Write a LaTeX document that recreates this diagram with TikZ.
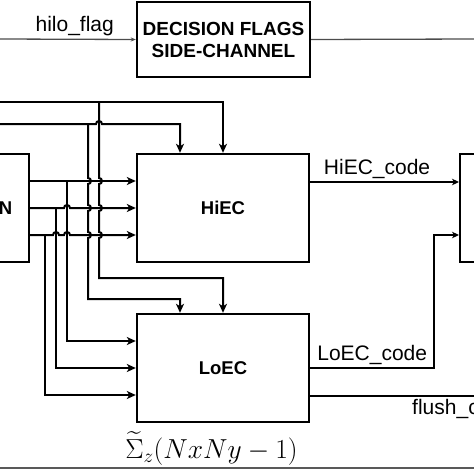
\RequirePackage{fix-cm}
\documentclass[tikz,border=0pt]{standalone}
\usepackage{amsmath}
\usepackage{fontspec}
\setmainfont{Liberation Sans}
\usetikzlibrary{positioning,arrows.meta,calc}

\begin{document}
\begin{tikzpicture}[x=1pt,y=1pt,
    block/.style={draw, line width=2.4pt, inner sep=0pt, align=center,
        font=\fontsize{18.5}{22}\selectfont\bfseries},
    wire/.style={line width=2pt},
    sig/.style={line width=1.5pt},
    faint/.style={line width=1.3pt, black!70},
    tip/.style={-{Stealth[length=9pt,width=8pt,inset=2.5pt]}},
    sigtip/.style={-{Stealth[length=7pt,width=6.5pt,inset=2pt]}},
    smalltip/.style={-{Stealth[length=5pt,width=4pt,inset=1.5pt]}},
    lbl/.style={font=\fontsize{21}{25}\selectfont, inner sep=3pt}
]
    \useasboundingbox (0,0) rectangle (474,-474);
    \clip (0,0) rectangle (474,-474);

    % Blocks
    \node[block, minimum width=173pt, minimum height=75pt, font=\fontsize{19}{22}\selectfont\bfseries] (flags) at (223.5,-39.5) {DECISION FLAGS\\SIDE-CHANNEL};
    \node[block, minimum width=100pt, minimum height=108pt, anchor=east] (split) at (30,-208) {};
    \node[font=\fontsize{18.5}{22}\selectfont\bfseries, inner sep=0pt] (splitlbl) at (5.5,-208) {N};
    \node[block, minimum width=172pt, minimum height=108pt] (hiec) at (223,-208) {HiEC};
    \node[block, minimum width=172pt, minimum height=108pt] (loec) at (223,-368) {LoEC};
    \node[block, minimum width=60pt, minimum height=108pt, anchor=west] (merge) at (459,-208) {};

    % Free ends and taps
    \coordinate (flagin) at (0,-39);
    \coordinate (flagout) at (474,-39);
    \coordinate (fbA) at (0,-102);
    \coordinate (fbB) at (0,-124);
    \coordinate (flushout) at (474,-396);
    \coordinate (tapA) at (67,-181);
    \coordinate (tapB) at (56,-208);
    \coordinate (tapC) at (45,-235);

    % Side-channel flag
    \draw[faint, smalltip] (flagin) -- (flags.west) node[pos=0.55, above, lbl, black] {hilo\_flag};
    \draw[faint] (flags.east) -- (flagout);

    % Feedback into HiEC
    \draw[wire, tip] (fbA) -| (hiec.north);
    \draw[wire, tip] (fbB) -- (96,-124) arc[start angle=180, end angle=0, radius=3] -| ([xshift=-43]hiec.north);

    % Rows into HiEC
    \draw[wire, tip] ([yshift=27]split.east) -- ([yshift=27]hiec.west);
    \draw[wire, tip] (split.east) -- (64,-208) arc[start angle=180, end angle=0, radius=3] -- (hiec.west);
    \draw[wire, tip] ([yshift=-27]split.east) -- (53,-235) arc[start angle=180, end angle=0, radius=3]
        -- (64,-235) arc[start angle=180, end angle=0, radius=3] -- ([yshift=-27]hiec.west);

    % Taps down into LoEC
    \draw[wire, tip] (tapA) |- ([yshift=27]loec.west);
    \draw[wire, tip] (tapB) |- (loec.west);
    \draw[wire, tip] (tapC) |- ([yshift=-27]loec.west);
    \draw[wire, tip] (88,-124) -- (88,-178) arc[start angle=90, end angle=-90, radius=3]
        -- (88,-205) arc[start angle=90, end angle=-90, radius=3]
        -- (88,-232) arc[start angle=90, end angle=-90, radius=3]
        -- (88,-299) -| ([xshift=-43]loec.north);
    \draw[wire, tip] (99,-102) -- (99,-178) arc[start angle=90, end angle=-90, radius=3]
        -- (99,-205) arc[start angle=90, end angle=-90, radius=3]
        -- (99,-232) arc[start angle=90, end angle=-90, radius=3]
        -- (99,-278) -| (loec.north);

    % Outputs
    \draw[sig, sigtip] ([yshift=26]hiec.east) -- ([yshift=26]hiec.east -| merge.west)
        node[pos=0, anchor=south west, lbl, xshift=10pt] {HiEC\_code};
    \draw[sig, sigtip] (loec.east) -- ++(124,0) node[midway, above, lbl] {LoEC\_code} |- ([yshift=-27]merge.west);
    \draw[sig] ([yshift=-28]loec.east) -- (flushout) node[pos=0.6, anchor=north west, lbl] {flush\_code};

    % Label and rule
    \node[anchor=base, inner sep=0pt, font=\fontsize{27.5}{32}\selectfont] (sigma) at (211.5,-458) {$\widetilde{\Sigma}_z(NxNy-1)$};
    \draw[line width=2pt, black!65] (0,-468) -- (474,-468);
\end{tikzpicture}
\end{document}
